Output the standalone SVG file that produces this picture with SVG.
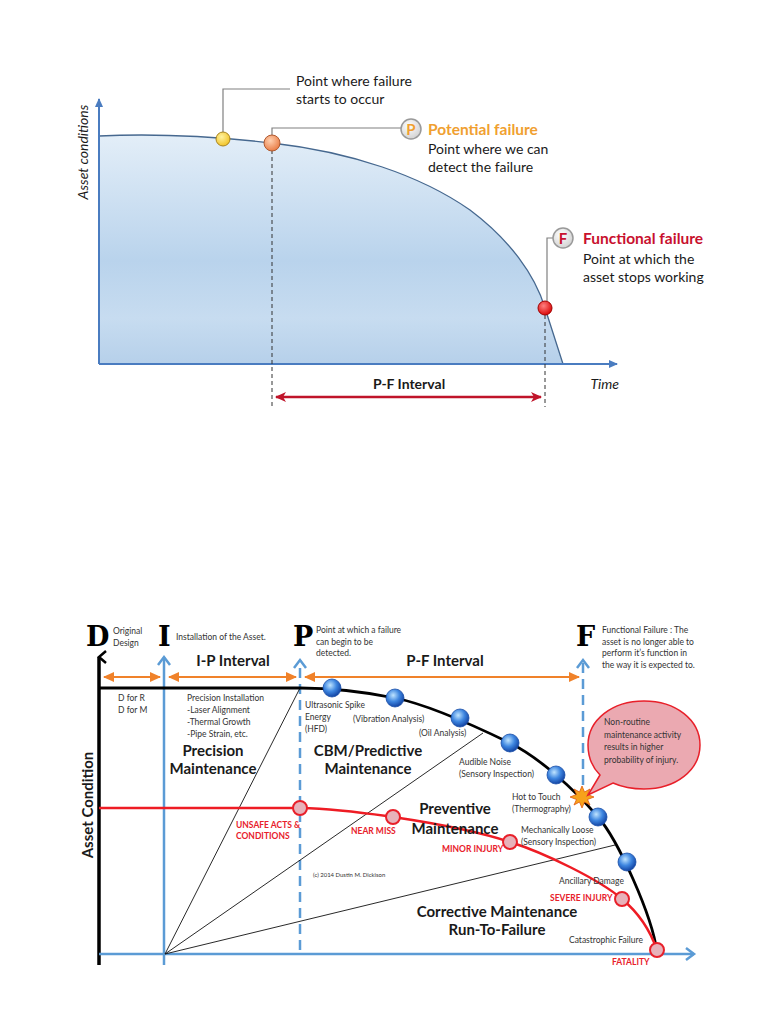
<svg xmlns="http://www.w3.org/2000/svg" width="768" height="1024" viewBox="0 0 768 1024">
<defs>
<style>
.t{font-family:Lato,"Open Sans",sans-serif;fill:#222}
.tt{font-family:Lato,"Open Sans",sans-serif;font-size:14px;fill:#1a1a1a}
.s{font-family:Lato,"Open Sans",sans-serif;font-size:8.5px;fill:#333}
.b{font-family:Lato,"Open Sans",sans-serif;font-size:15px;font-weight:bold;fill:#1a1a1a}
.r{font-family:Lato,"Open Sans",sans-serif;font-size:8.5px;font-weight:bold;fill:#e8202a}
.big{font-family:"DejaVu Serif",serif;font-size:27px;font-weight:bold;fill:#000}
.lead{fill:none;stroke:#808080;stroke-width:1.2}
.globe{fill:url(#gl);stroke:#1a4fa8;stroke-width:0.8}
.rc{fill:#e7b2ba;stroke:#e8202a;stroke-width:2}
</style>
<linearGradient id="fillg" x1="0" y1="0" x2="0" y2="1">
<stop offset="0" stop-color="#e3eef8"/>
<stop offset="0.55" stop-color="#b9d3ec"/>
<stop offset="0.8" stop-color="#c7dcf0"/>
<stop offset="1" stop-color="#b6d0ea"/>
</linearGradient>
<radialGradient id="gl" cx="0.4" cy="0.35" r="0.7">
<stop offset="0" stop-color="#bfe4ff"/>
<stop offset="0.5" stop-color="#3e86e0"/>
<stop offset="1" stop-color="#0c3a9a"/>
</radialGradient>
<radialGradient id="badge" cx="0.4" cy="0.35" r="0.7">
<stop offset="0" stop-color="#ffffff"/>
<stop offset="1" stop-color="#d0d0d0"/>
</radialGradient>
<radialGradient id="yel" cx="0.4" cy="0.35" r="0.7">
<stop offset="0" stop-color="#fff2a0"/>
<stop offset="1" stop-color="#f0c020"/>
</radialGradient>
<radialGradient id="org" cx="0.4" cy="0.35" r="0.7">
<stop offset="0" stop-color="#ffd0b0"/>
<stop offset="1" stop-color="#e87840"/>
</radialGradient>
<radialGradient id="red" cx="0.4" cy="0.35" r="0.7">
<stop offset="0" stop-color="#ff8080"/>
<stop offset="1" stop-color="#d80000"/>
</radialGradient>
<marker id="ab" markerWidth="10" markerHeight="10" refX="8" refY="5" orient="auto" markerUnits="userSpaceOnUse">
<path d="M0,1 L9,5 L0,9 Z" fill="#4a7cc0"/>
</marker>
<marker id="arr" markerWidth="12" markerHeight="12" refX="10" refY="6" orient="auto-start-reverse" markerUnits="userSpaceOnUse">
<path d="M0,1 L11,6 L0,11 L3,6 Z" fill="#c0142a"/>
</marker>
<marker id="oa" markerWidth="12" markerHeight="12" refX="10" refY="6" orient="auto-start-reverse" markerUnits="userSpaceOnUse">
<path d="M0,1 L11,6 L0,11 Z" fill="#f0822a"/>
</marker>
<marker id="chevk" markerWidth="14" markerHeight="14" refX="7" refY="3" orient="auto" markerUnits="userSpaceOnUse">
<path d="M1,10 L7,3 L13,10" fill="none" stroke="#000" stroke-width="2.5"/>
</marker>
<marker id="chevx" markerWidth="14" markerHeight="14" refX="11" refY="7" orient="auto" markerUnits="userSpaceOnUse">
<path d="M3,1 L11,7 L3,13" fill="none" stroke="#5b9bd5" stroke-width="2.5"/>
</marker>
</defs>
<rect width="768" height="1024" fill="#fff"/>

<!-- TOP DIAGRAM -->
<g id="top-chart">
<path d="M99,136 C160,133 220,137 272,143 C350,152 420,175 470,210 C510,240 535,275 545,308 C552,330 558,348 563,364 L99,364 Z" fill="url(#fillg)"/>
<path d="M99,136 C160,133 220,137 272,143 C350,152 420,175 470,210 C510,240 535,275 545,308 C552,330 558,348 563,364" fill="none" stroke="#46688f" stroke-width="1.3"/>
<line x1="99" y1="364" x2="99" y2="99" stroke="#4a7cc0" stroke-width="2" marker-end="url(#ab)"/>
<line x1="99" y1="364" x2="617" y2="364" stroke="#4a7cc0" stroke-width="2" marker-end="url(#ab)"/>
<text class="tt" font-style="italic" transform="translate(88,152) rotate(-90)" text-anchor="middle">Asset conditions</text>
<text class="tt" font-style="italic" x="619" y="389" text-anchor="end">Time</text>
</g>
<g id="top-connectors">
<line x1="272" y1="150" x2="272" y2="407" stroke="#333" stroke-width="1" stroke-dasharray="4,3"/>
<line x1="545" y1="315" x2="545" y2="407" stroke="#333" stroke-width="1" stroke-dasharray="4,3"/>
<line x1="276" y1="397" x2="541" y2="397" stroke="#c0142a" stroke-width="2.5" marker-start="url(#arr)" marker-end="url(#arr)"/>
<polyline class="lead" points="223,132 223,89 290,89"/>
<polyline class="lead" points="272,135 272,128 401,128"/>
<polyline class="lead" points="553,238 547,238 547,301"/>
</g>
<text id="pf-label" class="tt" font-weight="bold" x="409" y="389" text-anchor="middle">P-F Interval</text>
<g id="start-point">
<circle cx="223" cy="139" r="7" fill="url(#yel)" stroke="#a88420" stroke-width="1"/>
<text class="tt" x="296" y="86">Point where failure</text>
<text class="tt" x="296" y="104">starts to occur</text>
</g>
<g id="potential-failure">
<circle cx="272" cy="143" r="8" fill="url(#org)" stroke="#b05a30" stroke-width="1"/>
<circle cx="411" cy="129" r="10" fill="url(#badge)" stroke="#999" stroke-width="1.5"/>
<text x="411" y="134.5" text-anchor="middle" font-family="Lato,sans-serif" font-weight="bold" font-size="15" fill="#f0a030">P</text>
<text x="428" y="135" font-family="Lato,sans-serif" font-weight="bold" font-size="15.5" fill="#f0a030">Potential failure</text>
<text class="tt" x="428" y="154">Point where we can</text>
<text class="tt" x="428" y="172">detect the failure</text>
</g>
<g id="functional-failure">
<circle cx="545" cy="308" r="7" fill="url(#red)" stroke="#a00000" stroke-width="1"/>
<circle cx="563" cy="238" r="10" fill="url(#badge)" stroke="#999" stroke-width="1.5"/>
<text x="563" y="243.5" text-anchor="middle" font-family="Lato,sans-serif" font-weight="bold" font-size="15" fill="#c8102e">F</text>
<text x="583" y="244" font-family="Lato,sans-serif" font-weight="bold" font-size="15.5" fill="#c8102e">Functional failure</text>
<text class="tt" x="583" y="264">Point at which the</text>
<text class="tt" x="583" y="282">asset stops working</text>
</g>

<!-- BOTTOM DIAGRAM -->
<g id="axes">
<line x1="99" y1="965" x2="99" y2="657" stroke="#000" stroke-width="3.5" marker-end="url(#chevk)"/>
<line x1="164" y1="965" x2="164" y2="657" stroke="#5b9bd5" stroke-width="2.5" marker-end="url(#chevx)"/>
<line x1="99" y1="954" x2="694" y2="954" stroke="#5b9bd5" stroke-width="2.5" marker-end="url(#chevx)"/>
<text class="b" transform="translate(93,805) rotate(-90)" text-anchor="middle" font-size="14">Asset Condition</text>
</g>
<g id="bottom-connectors">
<line x1="300" y1="950" x2="300" y2="660" stroke="#5b9bd5" stroke-width="2.5" stroke-dasharray="10,6" marker-end="url(#chevx)"/>
<line x1="583" y1="785" x2="583" y2="660" stroke="#5b9bd5" stroke-width="2.5" stroke-dasharray="10,6" marker-end="url(#chevx)"/>
<line x1="104" y1="677" x2="160" y2="677" stroke="#f0822a" stroke-width="2" marker-start="url(#oa)" marker-end="url(#oa)"/>
<line x1="169" y1="677" x2="296" y2="677" stroke="#f0822a" stroke-width="2" marker-start="url(#oa)" marker-end="url(#oa)"/>
<line x1="305" y1="677" x2="579" y2="677" stroke="#f0822a" stroke-width="2" marker-start="url(#oa)" marker-end="url(#oa)"/>
<g stroke="#111" stroke-width="0.9" fill="none">
<line x1="165" y1="954" x2="300" y2="688"/>
<line x1="165" y1="954" x2="483" y2="733"/>
<line x1="165" y1="954" x2="615" y2="845"/>
</g>
<path d="M99,688 L300,688 C340,688 370,693 395,698 C430,705 475,726 510,743 C540,758 575,790 598,817 C618,840 652,915 657,952" fill="none" stroke="#000" stroke-width="2.8"/>
<path d="M99,808 L300,808 C340,809 365,813 393,817 C440,824 480,832 510,842 C545,853 600,880 622,899 C640,914 650,930 657,950" fill="none" stroke="#ee1c24" stroke-width="2.5"/>
</g>
<g id="header-D">
<text class="big" x="86" y="646">D</text>
<text class="s" x="113" y="634">Original</text>
<text class="s" x="113" y="646">Design</text>
</g>
<g id="header-I">
<text class="big" x="158" y="646">I</text>
<text class="s" x="176" y="640">Installation of the Asset.</text>
</g>
<g id="header-P">
<text class="big" x="293" y="646">P</text>
<text class="s" x="316" y="633">Point at which a failure</text>
<text class="s" x="316" y="645">can begin to be</text>
<text class="s" x="316" y="656">detected.</text>
</g>
<g id="header-F">
<text class="big" x="576" y="646">F</text>
<text class="s" x="602" y="633">Functional Failure : The</text>
<text class="s" x="602" y="645">asset is no longer able to</text>
<text class="s" x="602" y="656">perform it’s function in</text>
<text class="s" x="602" y="668">the way it is expected to.</text>
</g>
<text id="ip-interval" class="b" x="233" y="666" text-anchor="middle">I-P Interval</text>
<text id="pf-interval" class="b" x="445" y="666" text-anchor="middle">P-F Interval</text>
<g id="design-notes">
<text class="s" x="118" y="701">D for R</text>
<text class="s" x="118" y="713">D for M</text>
<text class="s" x="187" y="701">Precision Installation</text>
<text class="s" x="187" y="713">-Laser Alignment</text>
<text class="s" x="187" y="725">-Thermal Growth</text>
<text class="s" x="187" y="737">-Pipe Strain, etc.</text>
</g>
<g id="precision-maintenance">
<text class="b" x="213" y="756" text-anchor="middle">Precision</text>
<text class="b" x="213" y="774" text-anchor="middle">Maintenance</text>
</g>
<g id="cbm-maintenance">
<text class="b" x="368" y="756" text-anchor="middle">CBM/Predictive</text>
<text class="b" x="368" y="774" text-anchor="middle">Maintenance</text>
</g>
<g id="preventive-maintenance">
<text class="b" x="455" y="814" text-anchor="middle">Preventive</text>
<text class="b" x="455" y="834" text-anchor="middle">Maintenance</text>
</g>
<g id="corrective-maintenance">
<text class="b" x="497" y="917" text-anchor="middle">Corrective Maintenance</text>
<text class="b" x="497" y="935" text-anchor="middle">Run-To-Failure</text>
</g>
<g id="ultrasonic">
<circle class="globe" cx="332" cy="688" r="9"/>
<text class="s" x="305" y="708">Ultrasonic Spike</text>
<text class="s" x="305" y="720">Energy</text>
<text class="s" x="305" y="732">(HFD)</text>
</g>
<g id="vibration">
<circle class="globe" cx="395" cy="698" r="9"/>
<text class="s" x="353" y="722">(Vibration Analysis)</text>
</g>
<g id="oil">
<circle class="globe" cx="460" cy="718" r="9"/>
<text class="s" x="419" y="736">(Oil Analysis)</text>
</g>
<g id="audible">
<circle class="globe" cx="510" cy="743" r="9"/>
<text class="s" x="459" y="765">Audible Noise</text>
<text class="s" x="459" y="777">(Sensory Inspection)</text>
</g>
<g id="hot-touch">
<circle class="globe" cx="556" cy="775" r="9"/>
<text class="s" x="512" y="800">Hot to Touch</text>
<text class="s" x="512" y="812">(Thermography)</text>
</g>
<g id="star">
<polygon points="582,786 584.5,792 590,789 587.5,794.5 594,797 587.5,799.5 590,805 584.5,802 582,808 579.5,802 574,805 576.5,799.5 570,797 576.5,794.5 574,789 579.5,792" fill="#f7a21b" stroke="#e05a10" stroke-width="0.8"/>
</g>
<g id="mech-loose">
<circle class="globe" cx="598" cy="817" r="9"/>
<text class="s" x="521" y="833">Mechanically Loose</text>
<text class="s" x="521" y="845">(Sensory Inspection)</text>
</g>
<g id="ancillary">
<circle class="globe" cx="627" cy="862" r="9"/>
<text class="s" x="559" y="884">Ancillary Damage</text>
</g>
<g id="catastrophic">
<text class="s" x="569" y="943">Catastrophic Failure</text>
</g>
<g id="unsafe">
<circle class="rc" cx="300" cy="808" r="7"/>
<text class="r" x="236" y="828">UNSAFE ACTS &amp;</text>
<text class="r" x="236" y="839">CONDITIONS</text>
</g>
<g id="near-miss">
<circle class="rc" cx="393" cy="817" r="7"/>
<text class="r" x="351" y="834">NEAR MISS</text>
</g>
<g id="minor-injury">
<circle class="rc" cx="510" cy="842" r="7"/>
<text class="r" x="442" y="852">MINOR INJURY</text>
</g>
<g id="severe-injury">
<circle class="rc" cx="622" cy="899" r="7"/>
<text class="r" x="550" y="901">SEVERE INJURY</text>
</g>
<g id="fatality">
<circle class="rc" cx="657" cy="950" r="7"/>
<text class="r" x="612" y="965">FATALITY</text>
</g>
<g id="callout">
<path d="M644,701 C676,701 700,720 700,745 C700,770 676,789 644,789 C632,789 622,787 613,783 L588,795 L600,775 C592,767 588,757 588,745 C588,720 612,701 644,701 Z" fill="#eba9b1" stroke="#e8202a" stroke-width="1.5"/>
<text class="s" x="604" y="725" font-size="9">Non-routine</text>
<text class="s" x="604" y="738" font-size="9">maintenance activity</text>
<text class="s" x="604" y="750" font-size="9">results in higher</text>
<text class="s" x="604" y="763" font-size="9">probability of injury.</text>
</g>
<text id="copyright" class="s" transform="translate(313,877) scale(0.7)">(c) 2014 Dustin M. Dickison</text>
</svg>
